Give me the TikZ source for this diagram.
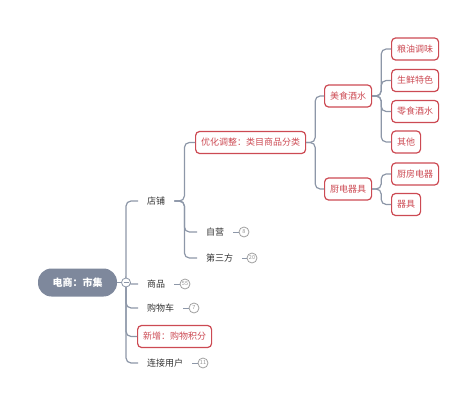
\documentclass[tikz,border=0pt]{standalone}
\usepackage{fontspec}
\setmainfont{Noto Sans CJK SC}
\usepackage{tikz}
\usetikzlibrary{calc}

\definecolor{linegray}{HTML}{8D97A8}
\definecolor{rootfill}{HTML}{7E889C}
\definecolor{tagred}{HTML}{CC4A53}
\definecolor{txtgray}{HTML}{333333}

\tikzset{
  topic/.style={font=\fontsize{9}{10}\selectfont,text=txtgray,inner xsep=9pt,inner ysep=3pt,anchor=west},
  redbox/.style={draw=tagred,line width=1.2pt,rounded corners=4pt,text=tagred,
    font=\fontsize{9}{10}\selectfont,minimum height=22pt,inner xsep=5.5pt,anchor=west},
  badge/.style={circle,draw=gray!75,line width=0.8pt,minimum size=10pt,inner sep=0pt,
    text=gray!85,font=\fontsize{5.5}{5.5}\selectfont},
  branch/.style={draw=linegray,line width=1.2pt,rounded corners=5pt},
}

\begin{document}
\begin{tikzpicture}[x=1pt,y=-1pt]
  \useasboundingbox (0,0) rectangle (474,409);

  % root
  \node[fill=rootfill,text=white,rounded corners=13.5pt,minimum width=79pt,minimum height=28pt,
    font=\fontsize{10}{10}\selectfont\bfseries] (root) at (77.5,282.5) {电商：市集};
  \coordinate (fold) at (126,282.5);

  % first level
  \node[topic] (shop) at (138,201) {店铺};
  \node[topic] (goods) at (138,284) {商品};
  \node[topic] (cart) at (138,308) {购物车};
  \node[redbox] (points) at (137,336.5) {新增：购物积分};
  \node[topic] (users) at (138,363) {连接用户};

  \node[badge] (goodsn) at (185,284) {55};
  \node[badge] (cartn) at (194,308) {7};
  \node[badge] (usersn) at (203,363) {11};

  % shop children
  \node[redbox] (category) at (195,142.5) {优化调整：类目商品分类};
  \node[topic] (own) at (197,232) {自营};
  \node[topic] (third) at (197,258) {第三方};
  \node[badge] (ownn) at (244,232) {8};
  \node[badge] (thirdn) at (252,258) {20};

  % category children
  \node[redbox] (food) at (324,96) {美食酒水};
  \node[redbox] (kitchen) at (324,189) {厨电器具};

  \node[redbox] (grain) at (391,49) {粮油调味};
  \node[redbox] (fresh) at (391,80.5) {生鲜特色};
  \node[redbox] (snack) at (391,111.5) {零食酒水};
  \node[redbox] (other) at (391,142) {其他};
  \node[redbox] (appliance) at (391,174) {厨房电器};
  \node[redbox] (ware) at (391,204.5) {器具};

  % connectors
  \draw[branch] (root.east) -- (fold);
  \foreach \c in {shop,goods,cart,points,users}
    \draw[branch] (fold) |- (\c.west);
  \foreach \c in {category,own,third}
    \draw[branch] (shop.east) -- ++(10,0) |- (\c.west);
  \foreach \c in {food,kitchen}
    \draw[branch] (category.east) -- ++(9,0) |- (\c.west);
  \foreach \c in {grain,fresh,snack,other}
    \draw[branch] (food.east) -- ++(9,0) |- (\c.west);
  \foreach \c in {appliance,ware}
    \draw[branch] (kitchen.east) -- ++(9,0) |- (\c.west);

  % badge stubs
  \draw[linegray,line width=0.9pt] (goods.east) -- (goodsn.west);
  \draw[linegray,line width=0.9pt] (cart.east) -- (cartn.west);
  \draw[linegray,line width=0.9pt] (users.east) -- (usersn.west);
  \draw[linegray,line width=0.9pt] (own.east) -- (ownn.west);
  \draw[linegray,line width=0.9pt] (third.east) -- (thirdn.west);

  % fold mark
  \node[circle,draw=linegray,fill=white,line width=0.8pt,minimum size=9pt,inner sep=0pt] (foldmark) at (fold) {};
  \draw[linegray,line width=0.7pt] ($(fold)+(-2.5,0)$) -- ($(fold)+(2.5,0)$);
\end{tikzpicture}
\end{document}
